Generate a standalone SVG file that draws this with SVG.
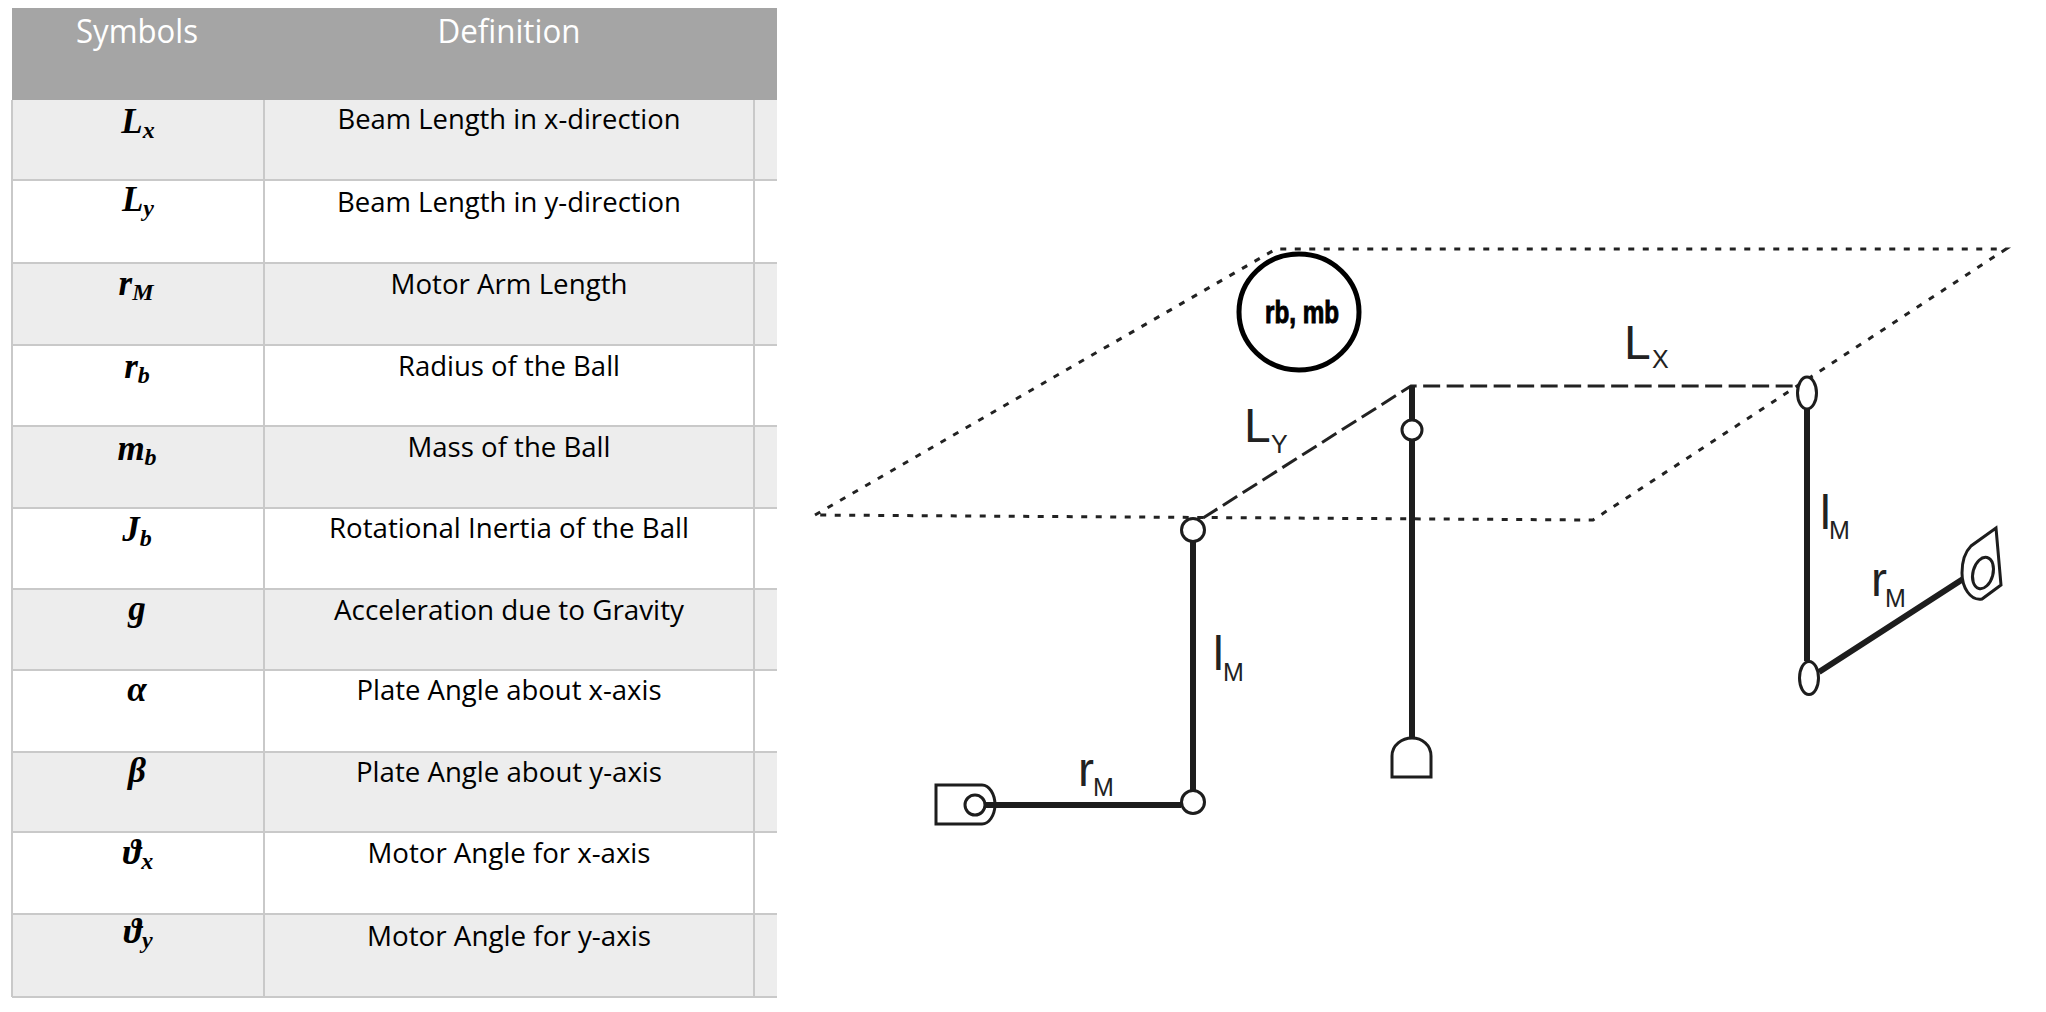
<svg xmlns="http://www.w3.org/2000/svg" width="2046" height="1012" viewBox="0 0 2046 1012">
<style>
.hd{font:33px "Open Sans","Noto Sans",sans-serif;fill:#fff;text-anchor:middle}
.df{font:28px "Open Sans","Noto Sans",sans-serif;fill:#000;text-anchor:middle}
.sy{font:italic bold 35px "Liberation Serif",serif;fill:#000;text-anchor:middle}
.sb{font-size:24px}
.grid{stroke:#c9c9c9;stroke-width:2;fill:none}
.shade{fill:#ededed}
.dot{fill:none;stroke:#222;stroke-width:3;stroke-dasharray:6 8.5}
.dash{fill:none;stroke:#222;stroke-width:3;stroke-dasharray:17 6.5}
.rod{fill:none;stroke:#1d1d1d;stroke-width:6}
.pin{fill:#fff;stroke:#1d1d1d;stroke-width:3}
.lb{font:48px "Liberation Sans",sans-serif;fill:#222}
.lm{font:25px "Liberation Sans",sans-serif;fill:#222}
</style>
<rect width="2046" height="1012" fill="#fff"/>
<g id="table" transform="translate(0,1)">
<rect x="12" y="7" width="765" height="92" fill="#a5a5a5"/>
<rect class="shade" x="12" y="99" width="765" height="80"/>
<rect class="shade" x="12" y="262" width="765" height="82"/>
<rect class="shade" x="12" y="425" width="765" height="82"/>
<rect class="shade" x="12" y="588" width="765" height="81"/>
<rect class="shade" x="12" y="751" width="765" height="80"/>
<rect class="shade" x="12" y="913" width="765" height="83"/>
<path class="grid" d="M12 179H777M12 262H777M12 344H777M12 425H777M12 507H777M12 588H777M12 669H777M12 751H777M12 831H777M12 913H777M12 996H777M12 99V996M264 99V996M754 99V996"/>
<text class="hd" x="137" y="42" textLength="122" lengthAdjust="spacingAndGlyphs">Symbols</text>
<text class="hd" x="509" y="42" textLength="143" lengthAdjust="spacingAndGlyphs">Definition</text>
<text class="df" x="509" y="128" textLength="343" lengthAdjust="spacingAndGlyphs">Beam Length in x-direction</text>
<text class="df" x="509" y="211" textLength="344" lengthAdjust="spacingAndGlyphs">Beam Length in y-direction</text>
<text class="df" x="509" y="293" textLength="237" lengthAdjust="spacingAndGlyphs">Motor Arm Length</text>
<text class="df" x="509" y="375" textLength="222" lengthAdjust="spacingAndGlyphs">Radius of the Ball</text>
<text class="df" x="509" y="456" textLength="203" lengthAdjust="spacingAndGlyphs">Mass of the Ball</text>
<text class="df" x="509" y="537" textLength="360" lengthAdjust="spacingAndGlyphs">Rotational Inertia of the Ball</text>
<text class="df" x="509" y="619" textLength="350" lengthAdjust="spacingAndGlyphs">Acceleration due to Gravity</text>
<text class="df" x="509" y="699" textLength="305" lengthAdjust="spacingAndGlyphs">Plate Angle about x-axis</text>
<text class="df" x="509" y="781" textLength="306" lengthAdjust="spacingAndGlyphs">Plate Angle about y-axis</text>
<text class="df" x="509" y="862" textLength="283" lengthAdjust="spacingAndGlyphs">Motor Angle for x-axis</text>
<text class="df" x="509" y="945" textLength="284" lengthAdjust="spacingAndGlyphs">Motor Angle for y-axis</text>
<text class="sy" x="138" y="132">L<tspan class="sb" dy="5">x</tspan></text>
<text class="sy" x="138" y="210">L<tspan class="sb" dy="5">y</tspan></text>
<text class="sy" x="136" y="294">r<tspan class="sb" dy="5">M</tspan></text>
<text class="sy" x="137" y="377">r<tspan class="sb" dy="5">b</tspan></text>
<text class="sy" x="137" y="459">m<tspan class="sb" dy="5">b</tspan></text>
<text class="sy" x="137" y="540">J<tspan class="sb" dy="5">b</tspan></text>
<text class="sy" x="137" y="619">g</text>
<text class="sy" x="137" y="700">α</text>
<text class="sy" x="137" y="781">β</text>
<text class="sy" x="138" y="863">ϑ<tspan class="sb" dy="5">x</tspan></text>
<text class="sy" x="138" y="942">ϑ<tspan class="sb" dy="5">y</tspan></text>
</g>
<g transform="translate(0,1)">
<g id="connectors">
<path class="dot" d="M815 514L1276 248H2006L1593 519L815 514"/>
<path class="dash" d="M1203 517L1411 385H1799"/>
<path class="rod" d="M1193 541V789M1181 804H995M1412 385V737M1807 408V660M1819 671L1963 578"/>
</g>
<g id="pin-front-top"><circle class="pin" cx="1193" cy="529" r="11.5"/></g>
<g id="pin-front-bottom"><circle class="pin" cx="1193" cy="801" r="11.5"/></g>
<g id="pin-back"><circle class="pin" cx="1412" cy="429" r="10"/></g>
<g id="pin-right-top"><ellipse class="pin" cx="1807" cy="392" rx="9.5" ry="16"/></g>
<g id="pin-right-bottom"><ellipse class="pin" cx="1809" cy="677" rx="9.5" ry="16.5"/></g>
<g id="motor-left">
<path class="pin" d="M936 784H982A13 20 0 0 1 995 804A13 20 0 0 1 982 823H936Z"/>
<circle class="pin" cx="975" cy="804" r="10"/>
<path class="rod" d="M985 804H995"/>
</g>
<g id="motor-back">
<path class="pin" d="M1392 776V755C1392 744 1402 737 1412 737C1422 737 1431 744 1431 755V776Z"/>
</g>
<g id="motor-right">
<path class="pin" d="M1996 527L2001 584L1982 598C1970 600 1962 586 1962 572C1962 560 1965 551 1971 545Z" stroke-width="2.5"/>
<ellipse class="pin" cx="1983" cy="572" rx="10" ry="16" transform="rotate(15 1983 572)" stroke-width="2.5"/>
</g>
<g id="labels">
<text class="lb" x="1624" y="358">L</text><text class="lm" x="1652" y="367">X</text>
<text class="lb" x="1244" y="441">L</text><text class="lm" x="1271" y="452">Y</text>
<text class="lb" x="1820" y="528">l</text><text class="lm" x="1829" y="538">M</text>
<text class="lb" x="1213" y="669">l</text><text class="lm" x="1223" y="680">M</text>
<text class="lb" x="1871" y="595">r</text><text class="lm" x="1885" y="606">M</text>
<text class="lb" x="1078" y="785">r</text><text class="lm" x="1093" y="795">M</text>
</g>
</g>
<g id="ball">
<ellipse cx="1299" cy="312" rx="60" ry="58" fill="none" stroke="#000" stroke-width="5"/>
<text x="1265" y="323" textLength="74" lengthAdjust="spacingAndGlyphs" style="font:bold 32px 'Liberation Sans',sans-serif" fill="#000" stroke="#000" stroke-width="1">rb, mb</text>
</g>
</svg>
